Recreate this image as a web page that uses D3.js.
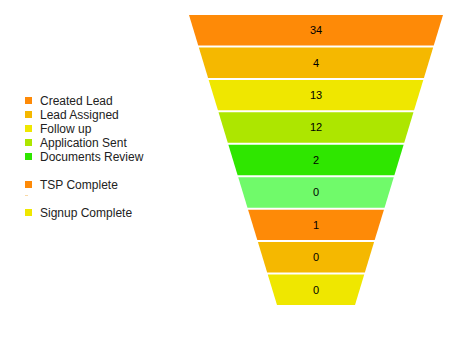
<!DOCTYPE html>
<html><head><meta charset="utf-8">
<script src="https://cdn.jsdelivr.net/npm/d3@7"></script>
<style>html,body{margin:0;padding:0;background:#fff;}svg{display:block;}</style>
</head><body>
<script>
const stages = ["Created Lead","Lead Assigned","Follow up","Application Sent","Documents Review","","TSP Complete","","Signup Complete"];
const values = [34,4,13,12,2,0,1,0,0];
const colors = ["#fe8a07","#f5b800","#efe700","#ade600","#2fe600","#70fa6a","#fe8a07","#f5b800","#efe700"];

const W = 461, H = 358;
const svg = d3.select("body").append("svg").attr("width", W).attr("height", H);

const fTop = 15, fBottom = 305, cx = 316, topW = 254, botW = 78;
const y = d3.scaleBand().domain(d3.range(stages.length)).range([fTop, fBottom]).paddingInner(0.062);
const w = d3.scaleLinear().domain([fTop, fBottom]).range([topW, botW]);

const seg = svg.append("g").selectAll("g").data(stages).join("g");
seg.append("path")
  .attr("d", (d, i) => {
    const y0 = y(i), y1 = y(i) + y.bandwidth();
    const a = w(y0) / 2, b = w(y1) / 2;
    return `M${cx - a},${y0}L${cx + a},${y0}L${cx + b},${y1}L${cx - b},${y1}Z`;
  })
  .attr("fill", (d, i) => colors[i]);
seg.append("text")
  .attr("x", cx)
  .attr("y", (d, i) => y(i) + y.bandwidth() / 2)
  .attr("dy", "0.35em")
  .attr("text-anchor", "middle")
  .attr("font-family", "Liberation Sans, Arial, sans-serif")
  .attr("font-size", 11)
  .attr("fill", "#000")
  .text((d, i) => values[i]);

const ly = d3.scaleLinear().domain([0, 1]).range([101, 115]);
const leg = svg.append("g").selectAll("g").data(stages).join("g")
  .attr("transform", (d, i) => `translate(25,${ly(i)})`);
leg.append("rect")
  .attr("x", 0)
  .attr("y", d => d ? -4 : -4)
  .attr("width", d => d ? 7 : 3)
  .attr("height", d => d ? 7 : 1)
  .attr("fill", (d, i) => d ? colors[i] : (i === 7 ? "#f9d9a6" : "none"));
leg.append("text")
  .attr("x", 15)
  .attr("y", 0)
  .attr("dy", "0.35em")
  .attr("font-family", "Liberation Sans, Arial, sans-serif")
  .attr("font-size", 12)
  .attr("fill", "#222")
  .text(d => d);
</script>
</body></html>
